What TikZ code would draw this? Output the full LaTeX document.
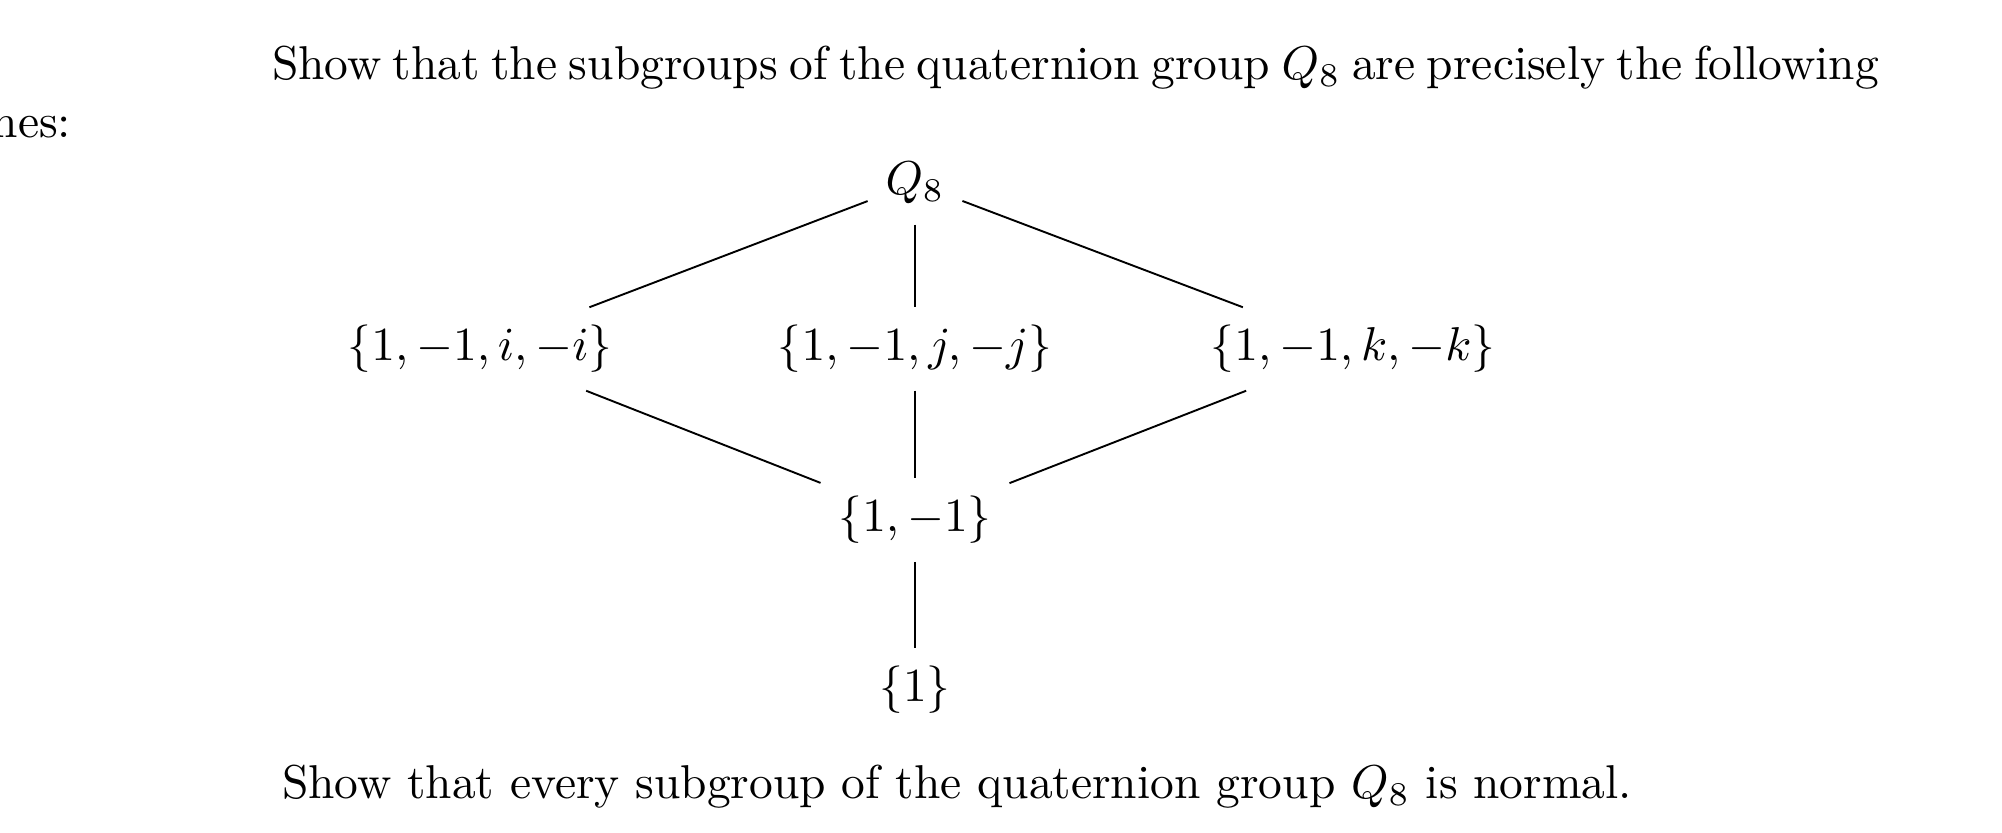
\documentclass[tikz,border=0pt]{standalone}
\newlength\pxu
\AtBeginDocument{%
  \settowidth{\pxu}{Show that every subgroup of the quaternion group $Q_8$ is normal.}%
  \setlength{\pxu}{\dimexpr\pxu/1350\relax}}
\tikzset{
  grp/.style={inner sep=18\pxu, outer sep=0pt, text height=0.75em, text depth=0.25em},
  txt/.style={inner sep=0pt, outer sep=0pt},
  link/.style={draw=black, line width=0.4pt}
}
\begin{document}
\begin{tikzpicture}[x=\pxu, y=-\pxu]
\useasboundingbox (0,0) rectangle (2002,832);
\clip (0,0) rectangle (2002,832);
\node[txt, anchor=base west] (top) at (272,79) {\makebox[1607\pxu][s]{Show that the subgroups of the quaternion group $Q_8$ are precisely the following}};
\node[txt, anchor=base east] (ones) at (71,137) {ones:};
\node[grp] (q8) at (915,183) {$Q_8$};
\node[grp] (i) at (480,349) {$\{1,-1,i,-i\}$};
\node[grp] (j) at (915,349) {$\{1,-1,j,-j\}$};
\node[grp] (k) at (1353,349) {$\{1,-1,k,-k\}$};
\node[grp] (m) at (915,520) {$\{1,-1\}$};
\node[grp] (e) at (915,690) {$\{1\}$};
\node[txt, anchor=base west] (bot) at (282,798) {Show that every subgroup of the quaternion group $Q_8$ is normal.};
\draw[link] (q8) -- (i);
\draw[link] (q8) -- (j);
\draw[link] (q8) -- (k);
\draw[link] (i) -- (m);
\draw[link] (j) -- (m);
\draw[link] (k) -- (m);
\draw[link] (m) -- (e);
\end{tikzpicture}
\end{document}
